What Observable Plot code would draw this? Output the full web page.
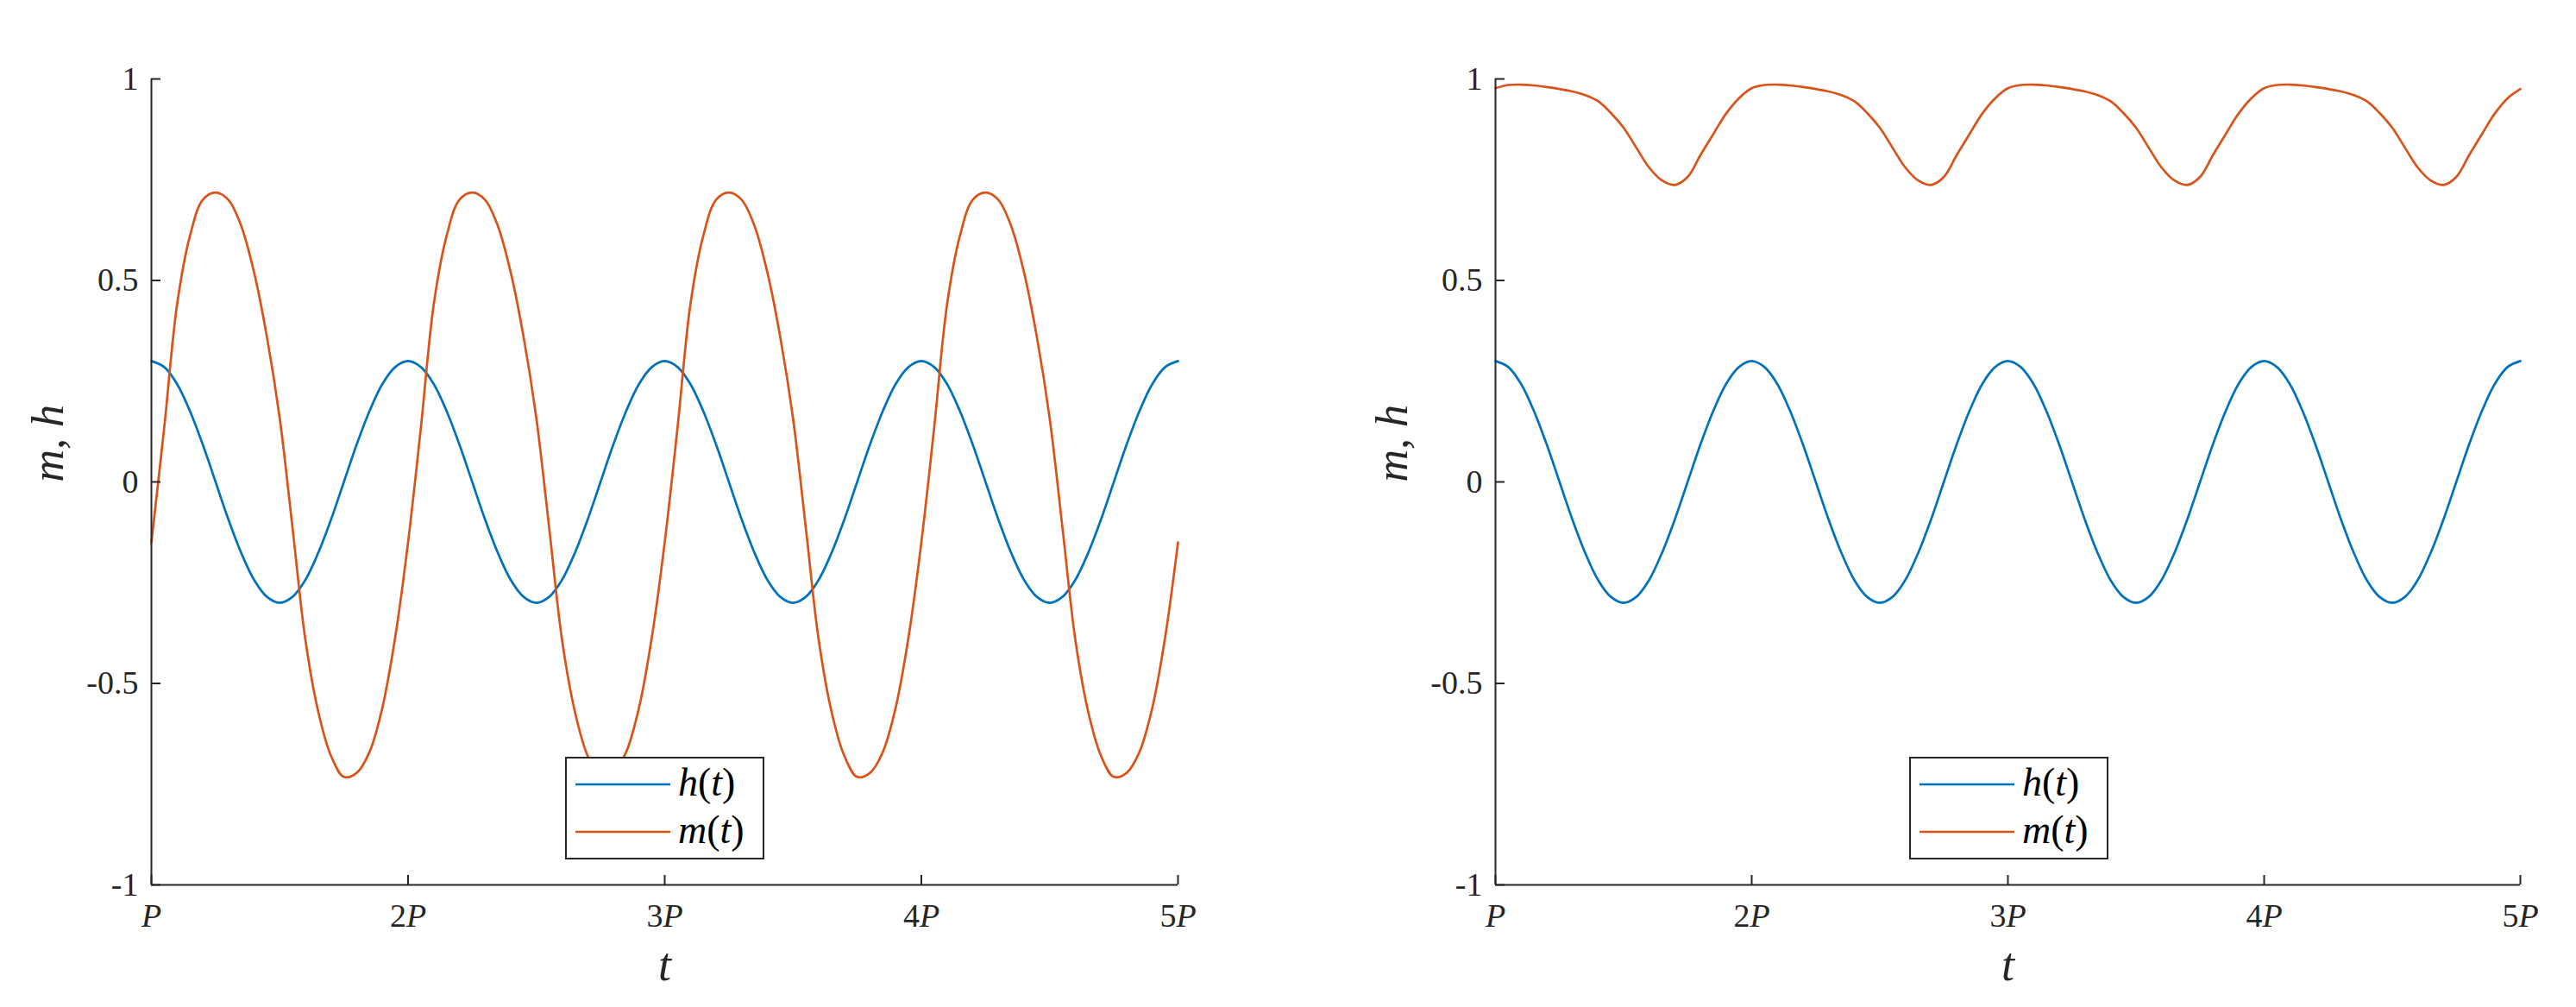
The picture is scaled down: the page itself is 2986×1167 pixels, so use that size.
<!DOCTYPE html>
<html><head><meta charset="utf-8">
<script src="https://cdn.jsdelivr.net/npm/d3@7"></script>
<script src="https://cdn.jsdelivr.net/npm/@observablehq/plot@0.6"></script>
<style>
html,body{margin:0;padding:0;background:#fff;}
#wrap{position:relative;width:2986px;height:1167px;overflow:hidden;background:#fff;}
#wrap svg{position:absolute;}
#wrap svg, #wrap svg text{font-family:'Liberation Serif', serif !important;}
</style></head><body><div id="wrap"></div>
<script>
// sampling grid (multiples of P)
const t = [1,1.05,1.1,1.15,1.2,1.25,1.3,1.35,1.4,1.45,1.5,1.55,1.6,1.65,1.7,1.75,1.8,1.85,1.9,1.95,
2,2.05,2.1,2.15,2.2,2.25,2.3,2.35,2.4,2.45,2.5,2.55,2.6,2.65,2.7,2.75,2.8,2.85,2.9,2.95,
3,3.05,3.1,3.15,3.2,3.25,3.3,3.35,3.4,3.45,3.5,3.55,3.6,3.65,3.7,3.75,3.8,3.85,3.9,3.95,
4,4.05,4.1,4.15,4.2,4.25,4.3,4.35,4.4,4.45,4.5,4.55,4.6,4.65,4.7,4.75,4.8,4.85,4.9,4.95,5];

const hLeft = [0.3,0.285,0.243,0.176,0.093,0,-0.093,-0.176,-0.243,-0.285,-0.3,-0.285,-0.243,-0.176,-0.093,0,0.093,0.176,0.243,0.285,
0.3,0.285,0.243,0.176,0.093,0,-0.093,-0.176,-0.243,-0.285,-0.3,-0.285,-0.243,-0.176,-0.093,0,0.093,0.176,0.243,0.285,
0.3,0.285,0.243,0.176,0.093,0,-0.093,-0.176,-0.243,-0.285,-0.3,-0.285,-0.243,-0.176,-0.093,0,0.093,0.176,0.243,0.285,
0.3,0.285,0.243,0.176,0.093,0,-0.093,-0.176,-0.243,-0.285,-0.3,-0.285,-0.243,-0.176,-0.093,0,0.093,0.176,0.243,0.285,0.3];

const mLeft = [-0.15,0.135,0.44,0.61,0.70,0.718,0.70,0.635,0.52,0.36,0.158,-0.115,-0.392,-0.57,-0.68,-0.732,-0.722,-0.67,-0.56,-0.385,
-0.15,0.135,0.44,0.61,0.70,0.718,0.70,0.635,0.52,0.36,0.158,-0.115,-0.392,-0.57,-0.68,-0.732,-0.722,-0.67,-0.56,-0.385,
-0.15,0.135,0.44,0.61,0.70,0.718,0.70,0.635,0.52,0.36,0.158,-0.115,-0.392,-0.57,-0.68,-0.732,-0.722,-0.67,-0.56,-0.385,
-0.15,0.135,0.44,0.61,0.70,0.718,0.70,0.635,0.52,0.36,0.158,-0.115,-0.392,-0.57,-0.68,-0.732,-0.722,-0.67,-0.56,-0.385,-0.15];

const hRight = [0.3,0.285,0.243,0.176,0.093,0,-0.093,-0.176,-0.243,-0.285,-0.3,-0.285,-0.243,-0.176,-0.093,0,0.093,0.176,0.243,0.285,
0.3,0.285,0.243,0.176,0.093,0,-0.093,-0.176,-0.243,-0.285,-0.3,-0.285,-0.243,-0.176,-0.093,0,0.093,0.176,0.243,0.285,
0.3,0.285,0.243,0.176,0.093,0,-0.093,-0.176,-0.243,-0.285,-0.3,-0.285,-0.243,-0.176,-0.093,0,0.093,0.176,0.243,0.285,
0.3,0.285,0.243,0.176,0.093,0,-0.093,-0.176,-0.243,-0.285,-0.3,-0.285,-0.243,-0.176,-0.093,0,0.093,0.176,0.243,0.285,0.3];

const mRight = [0.977,0.985,0.986,0.984,0.980,0.975,0.969,0.960,0.945,0.916,0.879,0.829,0.780,0.748,0.737,0.757,0.811,0.863,0.914,0.952,
0.977,0.985,0.986,0.984,0.980,0.975,0.969,0.960,0.945,0.916,0.879,0.829,0.780,0.748,0.737,0.757,0.811,0.863,0.914,0.952,
0.977,0.985,0.986,0.984,0.980,0.975,0.969,0.960,0.945,0.916,0.879,0.829,0.780,0.748,0.737,0.757,0.811,0.863,0.914,0.952,
0.977,0.985,0.986,0.984,0.980,0.975,0.969,0.960,0.945,0.916,0.879,0.829,0.780,0.748,0.737,0.757,0.811,0.863,0.914,0.952,0.975];

const xTicks = [1,2,3,4,5];
const xTickNums = ["","2","3","4","5"]; // followed by italic P
const yTicks = [-1,-0.5,0,0.5,1];
const yTickLabels = ["-1","-0.5","0","0.5","1"];
const seriesVars = ["h","m"];
const colors = ["#0072BD","#D95319"];

const FONT = "'Liberation Serif', serif";
const AX = "#262626";
const W = 1493, H = 1167, MT = 91, MB = 142;

function panel(h, m, left, marginLeft, marginRight) {
  const data = t.map((d,i)=>({t:d, h:h[i], m:m[i]}));
  const plotW = W - marginLeft - marginRight, plotH = H - MT - MB;
  const svg = Plot.plot({
    width: W, height: H, marginLeft, marginRight, marginTop: MT, marginBottom: MB,
    style: {fontFamily: FONT, background: "transparent", color: AX},
    x: {domain: [xTicks[0], xTicks[xTicks.length-1]]},
    y: {domain: [yTicks[0], yTicks[yTicks.length-1]]},
    marks: [
      Plot.line(data, {x:"t", y:"h", stroke: colors[0], strokeWidth: 2.7, curve: "catmull-rom"}),
      Plot.line(data, {x:"t", y:"m", stroke: colors[1], strokeWidth: 2.7, curve: "catmull-rom"}),
      Plot.ruleX([xTicks[0]], {stroke: AX, strokeWidth: 2}),
      Plot.ruleY([yTicks[0]], {stroke: AX, strokeWidth: 2}),
      Plot.tickX(xTicks, {x: d=>d, insetTop: plotH - 11, stroke: AX, strokeWidth: 2}),
      Plot.tickY(yTicks, {y: d=>d, insetRight: plotW - 11, stroke: AX, strokeWidth: 2}),
      Plot.axisX({ticks: xTicks, tickSize: 0, tickPadding: 22, tickFormat: d => xTickNums[xTicks.indexOf(d)] + "P", fontSize: 38, fontFamily: FONT, fill: AX, label: null}),
      Plot.axisY({ticks: yTicks, tickSize: 0, tickPadding: 15, tickFormat: d => yTickLabels[yTicks.indexOf(d)], fontSize: 38, fontFamily: FONT, fill: AX, label: null}),
      Plot.text(["t"], {frameAnchor: "bottom", text: d=>d, dy: 110, lineAnchor: "bottom", fontSize: 54, fontFamily: FONT, fontStyle: "italic", fill: AX}),
      Plot.text(["m, h"], {frameAnchor: "left", text: d=>d, rotate: -90, dx: -103, lineAnchor: "bottom", fontSize: 52, fontFamily: FONT, fontStyle: "italic", fill: AX})
    ]
  });
  d3.select(svg).style("left", left + "px").style("top", "0px").attr("font-family", FONT);
  // italic P in x tick labels
  d3.select(svg).selectAll('g[aria-label="x-axis tick label"] text').each(function() {
    const s = this.textContent;
    const num = s.slice(0, -1);
    this.textContent = "";
    const sel = d3.select(this);
    if (num) sel.append("tspan").text(num);
    sel.append("tspan").attr("font-style", "italic").text("P");
  });
  document.getElementById("wrap").appendChild(svg);

  // legend box inside the axes, as in the original
  const lg = d3.select("#wrap").append("svg")
    .attr("width", 232).attr("height", 120)
    .style("left", (left + marginLeft + 480) + "px").style("top", (MT + 786) + "px")
    .attr("font-family", FONT);
  lg.append("rect").attr("x", 1).attr("y", 1).attr("width", 229).attr("height", 117)
    .attr("fill", "#fff").attr("stroke", AX).attr("stroke-width", 2);
  seriesVars.forEach((v, i) => {
    const y = 32 + 55 * i;
    lg.append("line").attr("x1", 12).attr("x2", 122).attr("y1", y).attr("y2", y)
      .attr("stroke", colors[i]).attr("stroke-width", 2.7);
    const tx = lg.append("text").attr("x", 131).attr("y", y + 13)
      .attr("font-size", 46).attr("font-family", FONT).attr("fill", "#000");
    tx.append("tspan").attr("font-style", "italic").text(v);
    tx.append("tspan").text("(");
    tx.append("tspan").attr("font-style", "italic").text("t");
    tx.append("tspan").text(")");
  });
}

panel(hLeft, mLeft, 0, 175, 128);
panel(hRight, mRight, W, 240, 65);
</script>
</body></html>
